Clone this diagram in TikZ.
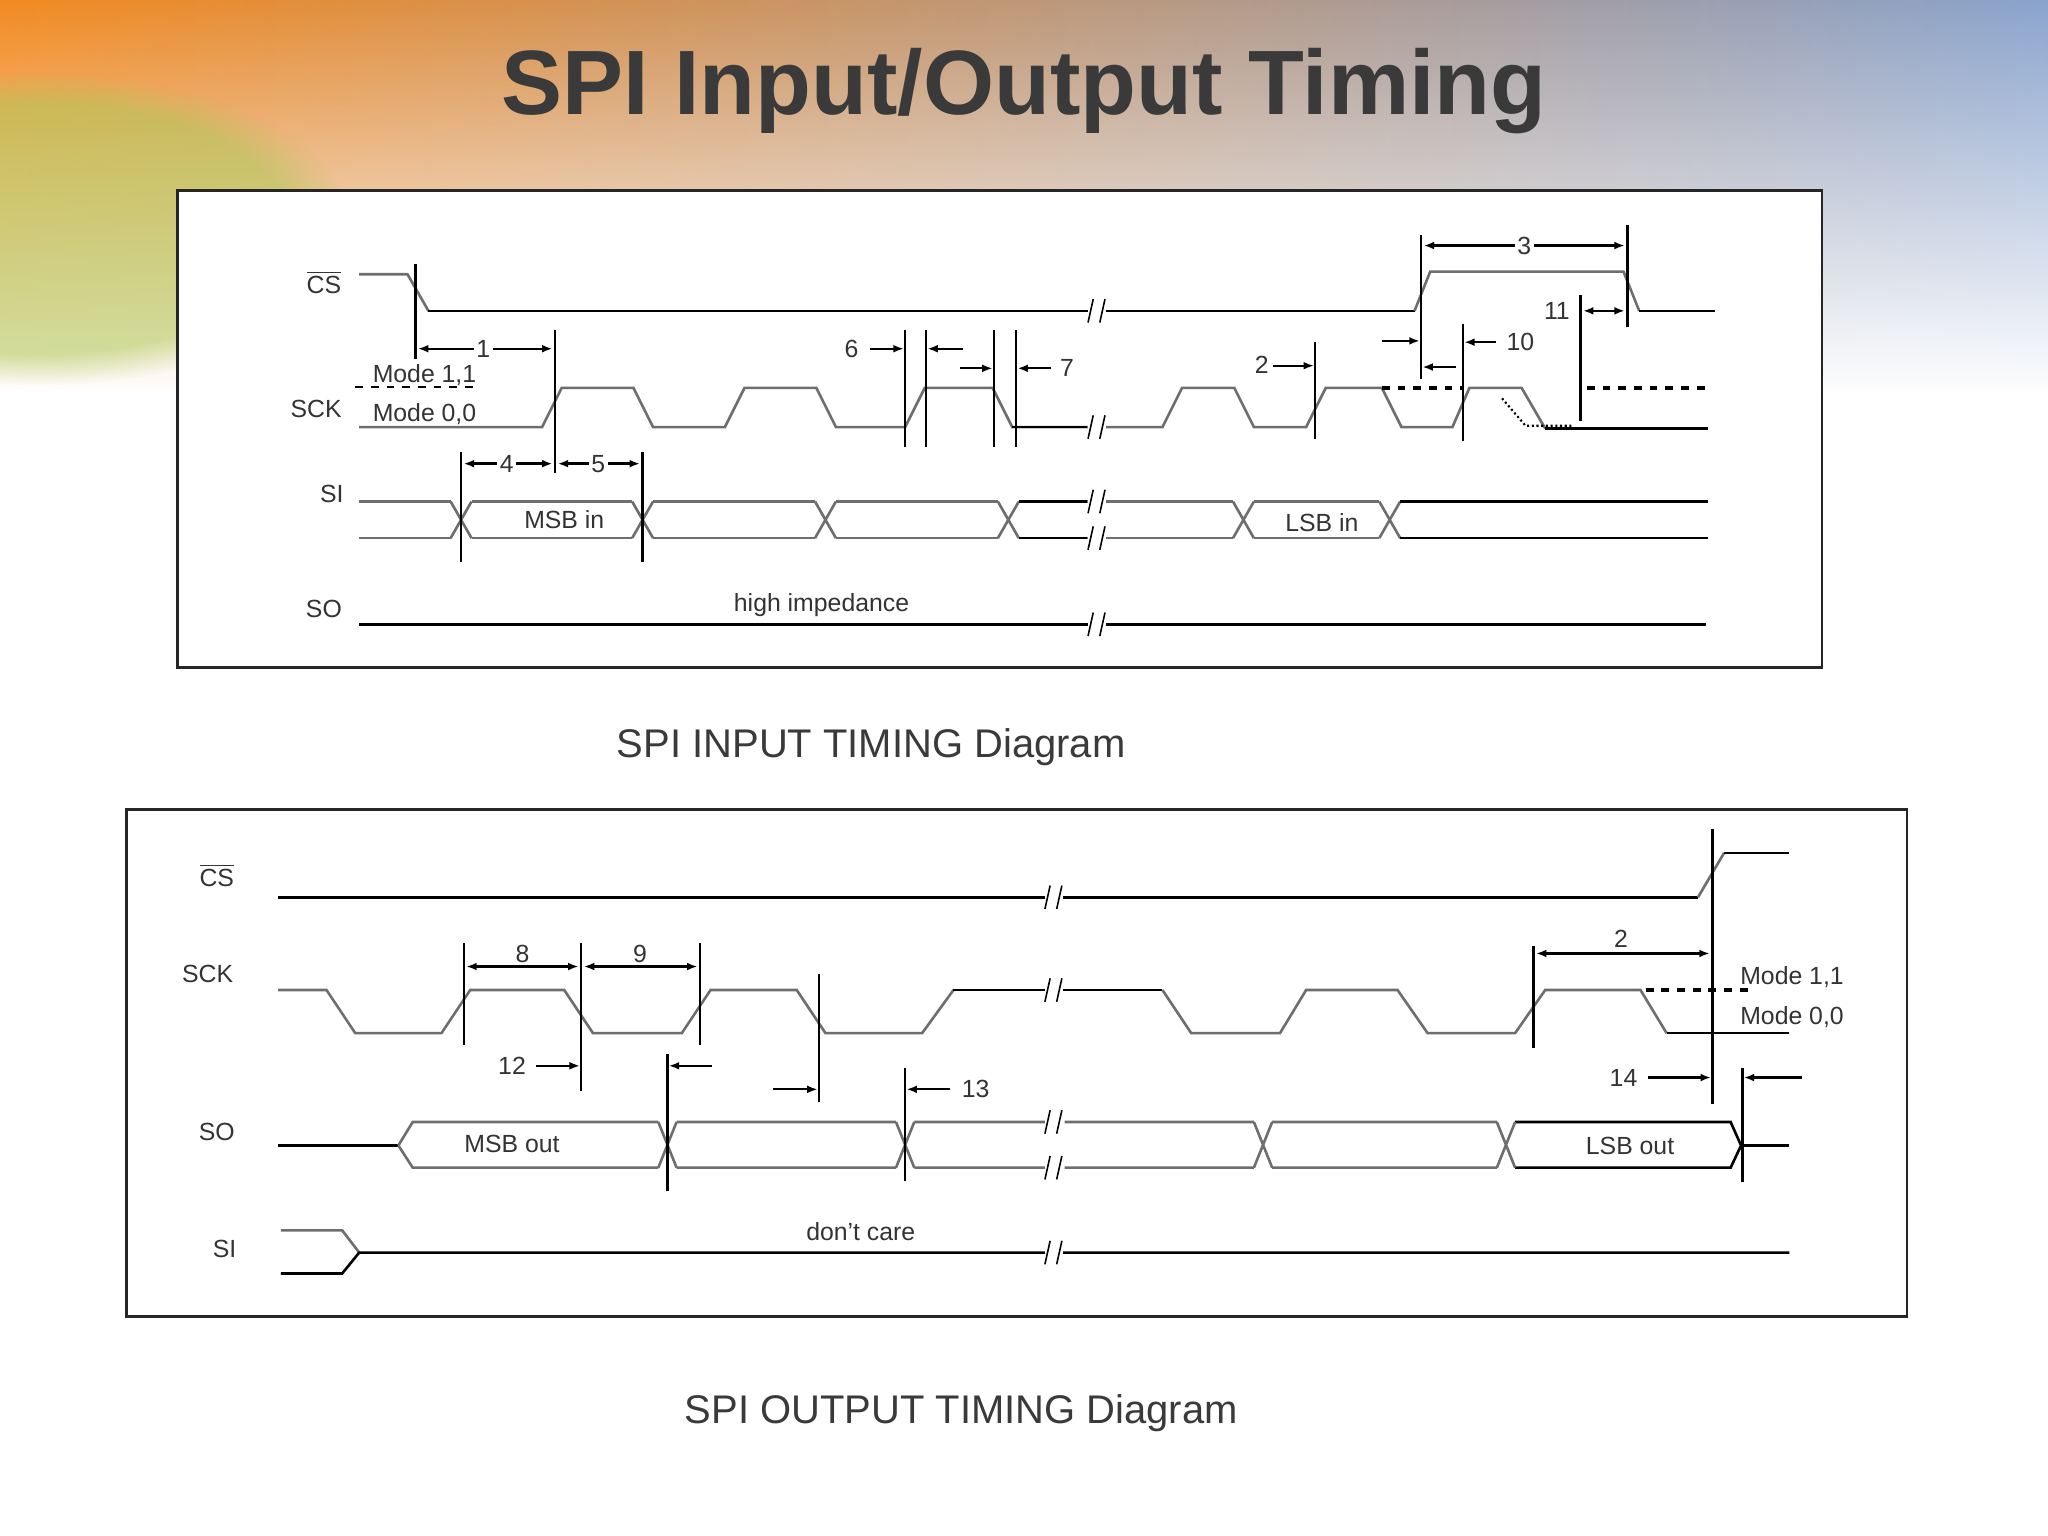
\documentclass[tikz,border=0pt]{standalone}
\usepackage{fontspec}
\setmainfont{Liberation Sans}
\usetikzlibrary{arrows.meta,fadings}
\definecolor{ttl}{HTML}{3A3A3A}
\definecolor{wav}{HTML}{6E6E6E}
\definecolor{bgo}{HTML}{F28A20}
\definecolor{bgg}{HTML}{D8B860}
\definecolor{bgb}{HTML}{8AA4CE}
\definecolor{bgl}{HTML}{A8C850}
\tikzset{
  wave/.style={draw=wav,line width=1pt},
  blk/.style={draw=black,line width=1pt},
  tmark/.style={draw=black,line width=0.9pt},
  dim/.style={draw=black,line width=0.9pt,{Latex[length=4pt,width=3pt]}-{Latex[length=4pt,width=3pt]}},
  rarr/.style={draw=black,line width=0.9pt,-{Latex[length=4pt,width=3pt]}},
  lbl/.style={font=\fontsize{9.5}{11}\selectfont,text=black!80,inner sep=1pt},
  panel/.style={draw=black!85,line width=1pt,fill=white},
  capt/.style={font=\fontsize{15.3}{17}\selectfont,text=ttl}
}
\newcommand\brk[2]{%
  \fill[white] ({#1-7},{#2-9}) rectangle ({#1+7},{#2+9});
  \draw[black,line width=0.6pt] ({#1-7},{#2+9})--({#1-3},{#2-9}) ({#1+2},{#2+9})--({#1+6},{#2-9});}
\begin{document}
\begin{tikzpicture}[x=0.5pt,y=-0.5pt]
\useasboundingbox (0,0) rectangle (1568,1176);
\fill[white] (0,0) rectangle (1568,1176);
\shade[left color=bgo,middle color=bgg,right color=bgb] (-2,-2) rectangle (1572,300);
\fill[white,path fading=north] (-2,0) rectangle (1572,302);
\fill[bgl,opacity=0.5,path fading=circle with fuzzy edge 20 percent] (30,175) ellipse [x radius=240,y radius=120];
\node[font=\bfseries\fontsize{35}{40}\selectfont,text=ttl] (title) at (784,70) {SPI Input/Output Timing};

% ---------- panel 1 ----------
\draw[panel] (136,146) rectangle (1395,511);
\node[capt] (cap1) at (667,572) {SPI INPUT TIMING Diagram};
\node[lbl] (cs1) at (248,216) {$\overline{\mbox{CS}}$};
\node[lbl] (sck1) at (242,313) {SCK};
\node[lbl] (m11a) at (325,287) {Mode 1,1};
\node[lbl] (m00a) at (325,317) {Mode 0,0};
\node[lbl] (si1) at (254,378) {SI};
\node[lbl] (so1) at (248,466) {SO};
\node[lbl] (msbin) at (432,398) {MSB in};
\node[lbl] (lsbin) at (1012,400) {LSB in};
\node[lbl] (hiz) at (629,463) {high impedance};
% CS
\draw[wave] (275,210)--(312,210)--(328,238);
\draw[blk] (328,238)--(1083,238);
\draw[wave] (1083,238)--(1095,208)--(1243,208)--(1255,238);
\draw[blk] (1255,238)--(1313,238);
\brk{840}{238}
% SCK
\draw[wave] (275,327)--(415,327)--(430,297)--(485,297)--(500,327)--(555,327)--(570,297)--(625,297)--(640,327)--(693,327)--(708,297)--(760,297)--(775,327)--(890,327)--(905,297)--(945,297)--(960,327)--(1000,327)--(1015,297)--(1058,297)--(1073,327)--(1112,327)--(1125,297)--(1165,297)--(1183,328);
\draw[blk] (775,327)--(832,327) (1183,328)--(1308,328);
\brk{840}{327}
\draw[black,line width=1.3pt,dashed] (1058,297)--(1120,297) (1215,297)--(1308,297);
\draw[black,line width=0.8pt,densely dotted] (1150,305)--(1168,326)--(1205,326);
\draw[black,line width=0.7pt,dashed] (272,296)--(365,296);
% SI bus
\draw[wave] (275,384)--(345,384) (361,384)--(484,384) (500,384)--(624,384) (640,384)--(764,384) (780,384)--(944,384) (960,384)--(1056,384);
\draw[wave] (275,412)--(345,412) (361,412)--(484,412) (500,412)--(624,412) (640,412)--(764,412) (780,412)--(944,412) (960,412)--(1056,412);
\foreach \c in {353,492,632,772,952,1064}{\draw[wave] ({\c-8},384)--({\c+8},412) ({\c-8},412)--({\c+8},384);}
\draw[blk] (1072,384)--(1308,384) (1072,412)--(1308,412) (780,384)--(832,384) (780,412)--(832,412);
\brk{840}{384}\brk{840}{412}
% SO
\draw[blk] (275,478)--(1306,478);
\brk{840}{478}
% markers
\draw[tmark] (318,202)--(318,275) (425,253)--(425,362) (353,346)--(353,430) (492,346)--(492,430)
  (693,253)--(693,342) (709,253)--(709,342) (761,253)--(761,342) (778,253)--(778,342)
  (1007,262)--(1007,336) (1088,180)--(1088,290) (1246,172)--(1246,250) (1120,248)--(1120,338) (1210,226)--(1210,322);
\draw[dim] (320,267)--(423,267); \node[lbl,fill=white] (d1) at (370,267) {1};
\draw[dim] (355,355)--(423,355); \node[lbl,fill=white] (d4) at (388,355) {4};
\draw[dim] (427,355)--(490,355); \node[lbl,fill=white] (d5) at (458,355) {5};
\draw[dim] (1090,188)--(1244,188); \node[lbl,fill=white] (d3) at (1167,188) {3};
\draw[dim] (1212,238)--(1244,238); \node[lbl] (d11) at (1192,238) {11};
\node[lbl] (d6) at (652,267) {6}; \draw[rarr] (666,267)--(692,267); \draw[rarr] (737,267)--(710,267);
\draw[rarr] (735,282)--(760,282); \draw[rarr] (805,282)--(779,282); \node[lbl] (d7) at (817,282) {7};
\node[lbl] (d2a) at (966,279) {2}; \draw[rarr] (975,280)--(1006,280);
\draw[rarr] (1058,261)--(1087,261); \draw[rarr] (1145,262)--(1121,262); \node[lbl] (d10) at (1164,262) {10};
\draw[rarr] (1115,281)--(1089,281);

% ---------- panel 2 ----------
\draw[panel] (97,620) rectangle (1460,1008);
\node[capt] (cap2) at (736,1082) {SPI OUTPUT TIMING Diagram};
\node[lbl] (cs2) at (166,670) {$\overline{\mbox{CS}}$};
\node[lbl] (sck2) at (159,746) {SCK};
\node[lbl] (so2) at (166,867) {SO};
\node[lbl] (si2) at (172,956) {SI};
\node[lbl] (m11b) at (1372,748) {Mode 1,1};
\node[lbl] (m00b) at (1372,779) {Mode 0,0};
\node[lbl] (msbout) at (392,876) {MSB out};
\node[lbl] (lsbout) at (1248,877) {LSB out};
\node[lbl] (dc) at (659,943) {don't care};
% CS
\draw[blk] (213,687)--(1300,687);
\draw[wave] (1300,687)--(1320,653);
\draw[blk] (1320,653)--(1370,653);
\brk{807}{687}
% SCK
\draw[wave] (213,758)--(250,758)--(272,791)--(338,791)--(360,758)--(432,758)--(454,791)--(522,791)--(544,758)--(610,758)--(632,791)--(706,791)--(730,758);
\draw[blk] (730,758)--(890,758);
\draw[wave] (890,758)--(912,791)--(980,791)--(1000,758)--(1070,758)--(1093,791)--(1160,791)--(1183,758)--(1256,758)--(1276,791);
\draw[blk] (1276,791)--(1370,791);
\draw[black,line width=1.3pt,dashed] (1260,758)--(1338,758);
\brk{807}{758}
% SO
\draw[blk] (213,877)--(305,877) (1333,877)--(1370,877);
\draw[wave] (305,877)--(316,859)--(504,859) (518,859)--(686,859) (700,859)--(800,859) (815,859)--(960,859) (974,859)--(1146,859);
\draw[wave] (305,877)--(316,894)--(504,894) (518,894)--(686,894) (700,894)--(800,894) (815,894)--(960,894) (974,894)--(1146,894);
\draw[blk] (1160,859)--(1325,859)--(1333,877)--(1325,894)--(1160,894);
\foreach \c in {511,693,967,1153}{\draw[wave] ({\c-7},859)--({\c+7},894) ({\c-7},894)--({\c+7},859);}
\brk{807}{859}\brk{807}{894}
% SI
\draw[wave] (215,942)--(262,942)--(275,959);
\draw[blk] (215,975)--(262,975)--(275,959)--(1370,959);
\brk{807}{959}
% markers
\draw[tmark] (355,722)--(355,800) (445,722)--(445,835) (536,722)--(536,800) (627,746)--(627,844)
  (1174,724)--(1174,802) (1311,635)--(1311,845) (511,807)--(511,912) (693,818)--(693,904) (1334,818)--(1334,905);
\draw[dim] (357,740)--(443,740); \node[lbl] (d8) at (400,730) {8};
\draw[dim] (447,740)--(534,740); \node[lbl] (d9) at (490,730) {9};
\draw[dim] (1176,730)--(1309,730); \node[lbl] (d2b) at (1241,719) {2};
\node[lbl] (d12) at (392,816) {12}; \draw[rarr] (410,816)--(444,816);
\draw[rarr] (545,816)--(512,816);
\draw[rarr] (592,834)--(626,834);
\draw[rarr] (727,834)--(694,834); \node[lbl] (d13) at (747,834) {13};
\node[lbl] (d14) at (1243,825) {14}; \draw[rarr] (1262,825)--(1310,825);
\draw[rarr] (1380,825)--(1335,825);
\end{tikzpicture}
\end{document}
